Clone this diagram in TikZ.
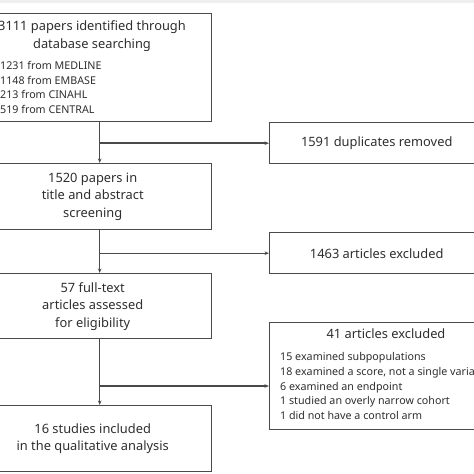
\documentclass[tikz,border=0pt]{standalone}
\usepackage{fontspec}
\setmainfont{Noto Sans}
\usetikzlibrary{arrows.meta}
\definecolor{ln}{HTML}{4A4A4A}
\definecolor{tx}{HTML}{2E2E2E}
\definecolor{strip}{HTML}{EEEEEE}
\begin{document}
\begin{tikzpicture}[x=1bp,y=-1bp,
 box/.style={draw=ln, line width=1.4bp, anchor=north west, inner sep=0pt, text=tx,
   font=\fontsize{12.9}{17.5}\selectfont, align=center},
 big/.style={text=tx, font=\fontsize{12.9}{17.5}\selectfont, align=center, inner sep=0pt},
 small/.style={text=tx, font=\fontsize{10.75}{14.6}\selectfont, align=left, inner sep=0pt},
 arr/.style={draw=ln, line width=1.4bp, -{Stealth[length=4.5bp,width=3.5bp]}}]
\useasboundingbox (0,0) rectangle (474,474);
\clip (0,0) rectangle (474,474);
\fill[strip] (0,0) rectangle (474,3);
% left column
\node[box, minimum width=238bp, minimum height=108bp] (b1) at (-27,13) {};
\node[big] (h1) at (92,36) {3111 papers identified through\\database searching};
\node[small, anchor=west] (l1) at (0,87.5) {1231 from MEDLINE\\1148 from EMBASE\\213 from CINAHL\\519 from CENTRAL};
\node[box, minimum width=238bp, minimum height=66bp] (b2) at (-27,163) {1520 papers in\\title and abstract\\screening};
\node[box, minimum width=238bp, minimum height=65bp] (b3) at (-27,273) {57 full-text\\articles assessed\\for eligibility};
\node[box, minimum width=238bp, minimum height=66bp] (b4) at (-27,405) {16 studies included\\in the qualitative analysis};
% right column
\node[box, minimum width=214bp, minimum height=41bp] (r1) at (269,122) {1591 duplicates removed};
\node[box, minimum width=214bp, minimum height=41bp] (r2) at (269,232) {1463 articles excluded};
\node[box, minimum width=214bp, minimum height=107bp] (r3) at (269,322) {};
\node[big] (h3) at (386,334) {41 articles excluded};
\node[small, anchor=west] (l3) at (280,386) {15 examined subpopulations\\18 examined a score, not a single variable\\6 examined an endpoint\\1 studied an overly narrow cohort\\1 did not have a control arm};
% connectors
\coordinate (v1) at ([xshift=7bp]b1.south);
\coordinate (v2) at ([xshift=7bp]b2.south);
\coordinate (v3) at ([xshift=7bp]b3.south);
\draw[arr] (v1) -- (v1 |- b2.north);
\draw[arr] (v2) -- (v2 |- b3.north);
\draw[arr] (v3) -- (v3 |- b4.north);
\draw[arr] (v1 |- r1.west) -- (r1.west);
\draw[arr] (v2 |- r2.west) -- (r2.west);
\draw[arr] (v3 |- l3.west) -- (r3.west |- l3.west);
\end{tikzpicture}
\end{document}
